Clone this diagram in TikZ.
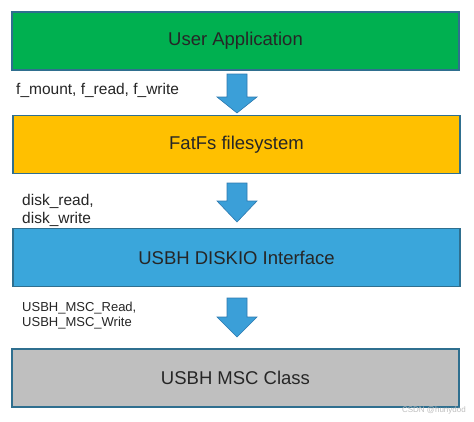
\documentclass[tikz,border=0pt]{standalone}
\usepackage{fontspec}
\setmainfont{Liberation Sans}
\definecolor{cgreen}{HTML}{00B050}
\definecolor{corange}{HTML}{FFC000}
\definecolor{cblue}{HTML}{3AA6DB}
\definecolor{cgray}{HTML}{BFBFBF}
\definecolor{cborder}{HTML}{2F6F8F}
\definecolor{carrow}{HTML}{3B9FD8}
\definecolor{carrowb}{HTML}{2E7AB0}
\begin{document}
\begin{tikzpicture}[x=1pt,y=-1pt,
  layer/.style={draw=cborder,line width=1.6pt,minimum width=447pt,minimum height=58pt,inner sep=0pt,font=\fontsize{18.5}{21}\selectfont,text=black!85},
  lbl/.style={anchor=west,inner sep=0pt,align=left,font=\fontsize{15.5}{18}\selectfont,text=black!85},
  slbl/.style={anchor=west,inner sep=0pt,align=left,font=\fontsize{13}{15}\selectfont,text=black!85},
  flowarrow/.style={fill=carrow,draw=carrowb,line width=0.6pt,line join=miter}]
\useasboundingbox (0,0) rectangle (474,421);
\fill[white] (0,0) rectangle (474,421);
\node[layer,fill=cgreen] (ua) at (235.5,41) {User Application};
\node[layer,fill=corange] (fs) at (236.5,144.5) {FatFs filesystem};
\node[layer,fill=cblue] (dio) at (236.5,257.5) {USBH DISKIO Interface};
\node[layer,fill=cgray] (msc) at (235.5,378) {USBH MSC Class};
\node[lbl] (l1) at (16,90) {f\_mount, f\_read, f\_write};
\node[lbl] (l2) at (22,210) {disk\_read,\\disk\_write};
\node[slbl] (l3) at (22,315.5) {USBH\_MSC\_Read,\\USBH\_MSC\_Write};
\node[anchor=east,inner sep=0pt,font=\fontsize{8}{9}\selectfont,text=black!25] (wm) at (466,410) {CSDN @hunydod};
% arrows
\foreach \t/\hb/\tip in {74/97/113, 183/201/222, 298/317/337}{
  \draw[flowarrow] (227,\t) -- (247,\t) -- (247,\hb) -- (257,\hb) -- (237,\tip) -- (217,\hb) -- (227,\hb) -- cycle;
}
\end{tikzpicture}
\end{document}
